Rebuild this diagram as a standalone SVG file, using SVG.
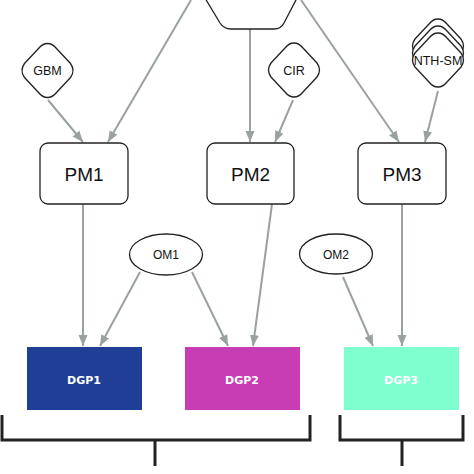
<svg xmlns="http://www.w3.org/2000/svg" width="474" height="474" viewBox="0 0 474 474">
<style>
.n{fill:#fff;stroke:#222;stroke-width:1.3}
.t{font-family:"Liberation Sans",Arial,sans-serif;fill:#111;text-anchor:middle;dominant-baseline:central}
.c{stroke:#9aa29d;stroke-width:2;fill:none;marker-end:url(#ah)}
.dt{font-family:"DejaVu Sans",sans-serif;font-weight:bold;font-size:11px;fill:#fff;text-anchor:middle;dominant-baseline:central}
.b{stroke:#222;stroke-width:3;fill:none}
</style>
<defs>
<marker id="ah" markerUnits="userSpaceOnUse" markerWidth="12" markerHeight="10" refX="11" refY="4.5" orient="auto">
<path d="M0,0 L11,4.5 L0,9 z" fill="#9aa29d"/>
</marker>
<path id="dia" d="M0,-27 Q5,-27 9,-22 L23,-7 Q28,0 23,7 L9,22 Q5,27 0,27 Q-5,27 -9,22 L-23,7 Q-28,0 -23,-7 L-9,-22 Q-5,-27 0,-27 z"/>
</defs>
<rect width="474" height="474" fill="#fff"/>
<g id="connectors">
<line class="c" x1="191" y1="0" x2="108" y2="142"/>
<line class="c" x1="250" y1="29" x2="250" y2="142"/>
<line class="c" x1="301" y1="0" x2="399" y2="142"/>
<line class="c" x1="48" y1="100" x2="83" y2="142"/>
<line class="c" x1="293" y1="100" x2="275" y2="142"/>
<line class="c" x1="438" y1="91" x2="425" y2="142"/>
<line class="c" x1="83" y1="204" x2="83" y2="346"/>
<line class="c" x1="272" y1="204" x2="253" y2="346"/>
<line class="c" x1="402" y1="204" x2="402" y2="346"/>
<line class="c" x1="140" y1="272" x2="100" y2="346"/>
<line class="c" x1="192" y1="272" x2="228" y2="346"/>
<line class="c" x1="343" y1="277" x2="373" y2="346"/>
</g>
<g id="top">
<path class="n" d="M205,-2 L220,23 Q224,29 231,29 L274,29 Q281,29 284,23 L297,-2"/>
</g>
<g id="gbm">
<use href="#dia" class="n" transform="translate(47.5,70.5)"/>
<text class="t" x="47.5" y="71" font-size="12.5">GBM</text>
</g>
<g id="cir">
<use href="#dia" class="n" transform="translate(294,70)"/>
<text class="t" x="294" y="70.5" font-size="12.5">CIR</text>
</g>
<g id="nthsm">
<use href="#dia" class="n" transform="translate(438,46)"/>
<use href="#dia" class="n" transform="translate(438,53)"/>
<use href="#dia" class="n" transform="translate(438,60)"/>
<text class="t" x="438" y="60.5" font-size="12.5">NTH-SM</text>
</g>
<g id="pm1">
<rect class="n" x="40" y="143" width="88" height="61" rx="8"/>
<text class="t" x="84" y="174" font-size="19">PM1</text>
</g>
<g id="pm2">
<rect class="n" x="207" y="143" width="87" height="61" rx="8"/>
<text class="t" x="250.5" y="174" font-size="19">PM2</text>
</g>
<g id="pm3">
<rect class="n" x="358" y="143" width="88" height="61" rx="8"/>
<text class="t" x="402" y="174" font-size="19">PM3</text>
</g>
<g id="om1">
<ellipse class="n" cx="166" cy="254.5" rx="36.5" ry="20.5"/>
<text class="t" x="166" y="255" font-size="12">OM1</text>
</g>
<g id="om2">
<ellipse class="n" cx="336" cy="254" rx="36.5" ry="20"/>
<text class="t" x="336" y="254.5" font-size="12">OM2</text>
</g>
<g id="dgp1">
<rect x="27" y="347" width="115" height="63" fill="#1f3f96"/>
<text class="dt" x="84" y="380">DGP1</text>
</g>
<g id="dgp2">
<rect x="185" y="347" width="115" height="63" fill="#c83db4"/>
<text class="dt" x="242" y="380">DGP2</text>
</g>
<g id="dgp3">
<rect x="344" y="347" width="115" height="63" fill="#7fffd0"/>
<text class="dt" x="401" y="380">DGP3</text>
</g>
<g id="brackets">
<path class="b" d="M2,415 L2,440 L310,440 L310,415 M155,440 L155,466"/>
<path class="b" d="M340,415 L340,440 L463,440 L463,415 M402,440 L402,466"/>
</g>
</svg>
